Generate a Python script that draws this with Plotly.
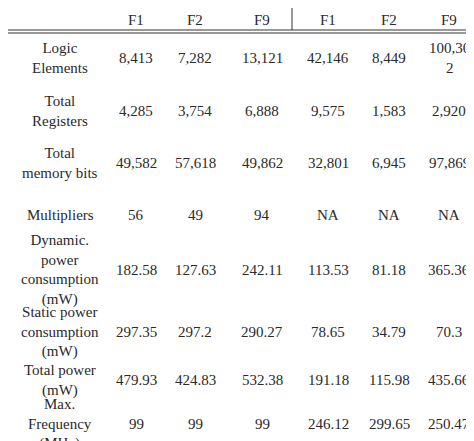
import plotly.graph_objects as go

columns = ["F1", "F2", "F9", "F1", "F2", "F9"]
row_labels = ["Logic<br>Elements", "Total<br>Registers", "Total<br>memory bits", "Multipliers",
              "Dynamic.<br>power<br>consumption<br>(mW)", "Static power<br>consumption<br>(mW)",
              "Total power<br>(mW)", "Max.<br>Frequency<br>(MHz)"]
col_F1a = ["8,413", "4,285", "49,582", "56", "182.58", "297.35", "479.93", "99"]
col_F2a = ["7,282", "3,754", "57,618", "49", "127.63", "297.2", "424.83", "99"]
col_F9a = ["13,121", "6,888", "49,862", "94", "242.11", "290.27", "532.38", "99"]
col_F1b = ["42,146", "9,575", "32,801", "NA", "113.53", "78.65", "191.18", "246.12"]
col_F2b = ["8,449", "1,583", "6,945", "NA", "81.18", "34.79", "115.98", "299.65"]
col_F9b = ["100,30<br>2", "2,920", "97,869", "NA", "365.36", "70.3", "435.66", "250.47"]

W, H = 466, 441
col_x = [52, 128, 187, 254, 320, 381, 441]
row_y = [50, 103, 155, 207, 262, 324, 372, 416]
header_y = 12
font = dict(family="Liberation Serif, Times New Roman, serif", size=15, color="#2a2a2a")

fig = go.Figure()
ann = []
for cx, c in zip(col_x[1:], columns):
    ann.append(dict(x=cx, y=header_y, text=c))
data_cols = [row_labels, col_F1a, col_F2a, col_F9a, col_F1b, col_F2b, col_F9b]
for cx, col in zip(col_x, data_cols):
    for ry, v in zip(row_y, col):
        ann.append(dict(x=cx, y=ry, text=v))
for a in ann:
    a.update(xref="x", yref="y", showarrow=False, font=font, xanchor="center", yanchor="middle")

shapes = [
    dict(type="line", x0=0, x1=W, y0=22, y1=22, line=dict(color="#333", width=1)),
    dict(type="line", x0=0, x1=W, y0=25, y1=25, line=dict(color="#333", width=1)),
    dict(type="line", x0=284, x1=284, y0=0, y1=22, line=dict(color="#333", width=1)),
]
fig.update_layout(width=W, height=H, margin=dict(l=0, r=0, t=0, b=0),
                  paper_bgcolor="white", plot_bgcolor="white",
                  xaxis=dict(range=[0, W], visible=False, fixedrange=True),
                  yaxis=dict(range=[H, 0], visible=False, fixedrange=True),
                  annotations=ann, shapes=shapes, showlegend=False)
fig.write_html("out.html")
